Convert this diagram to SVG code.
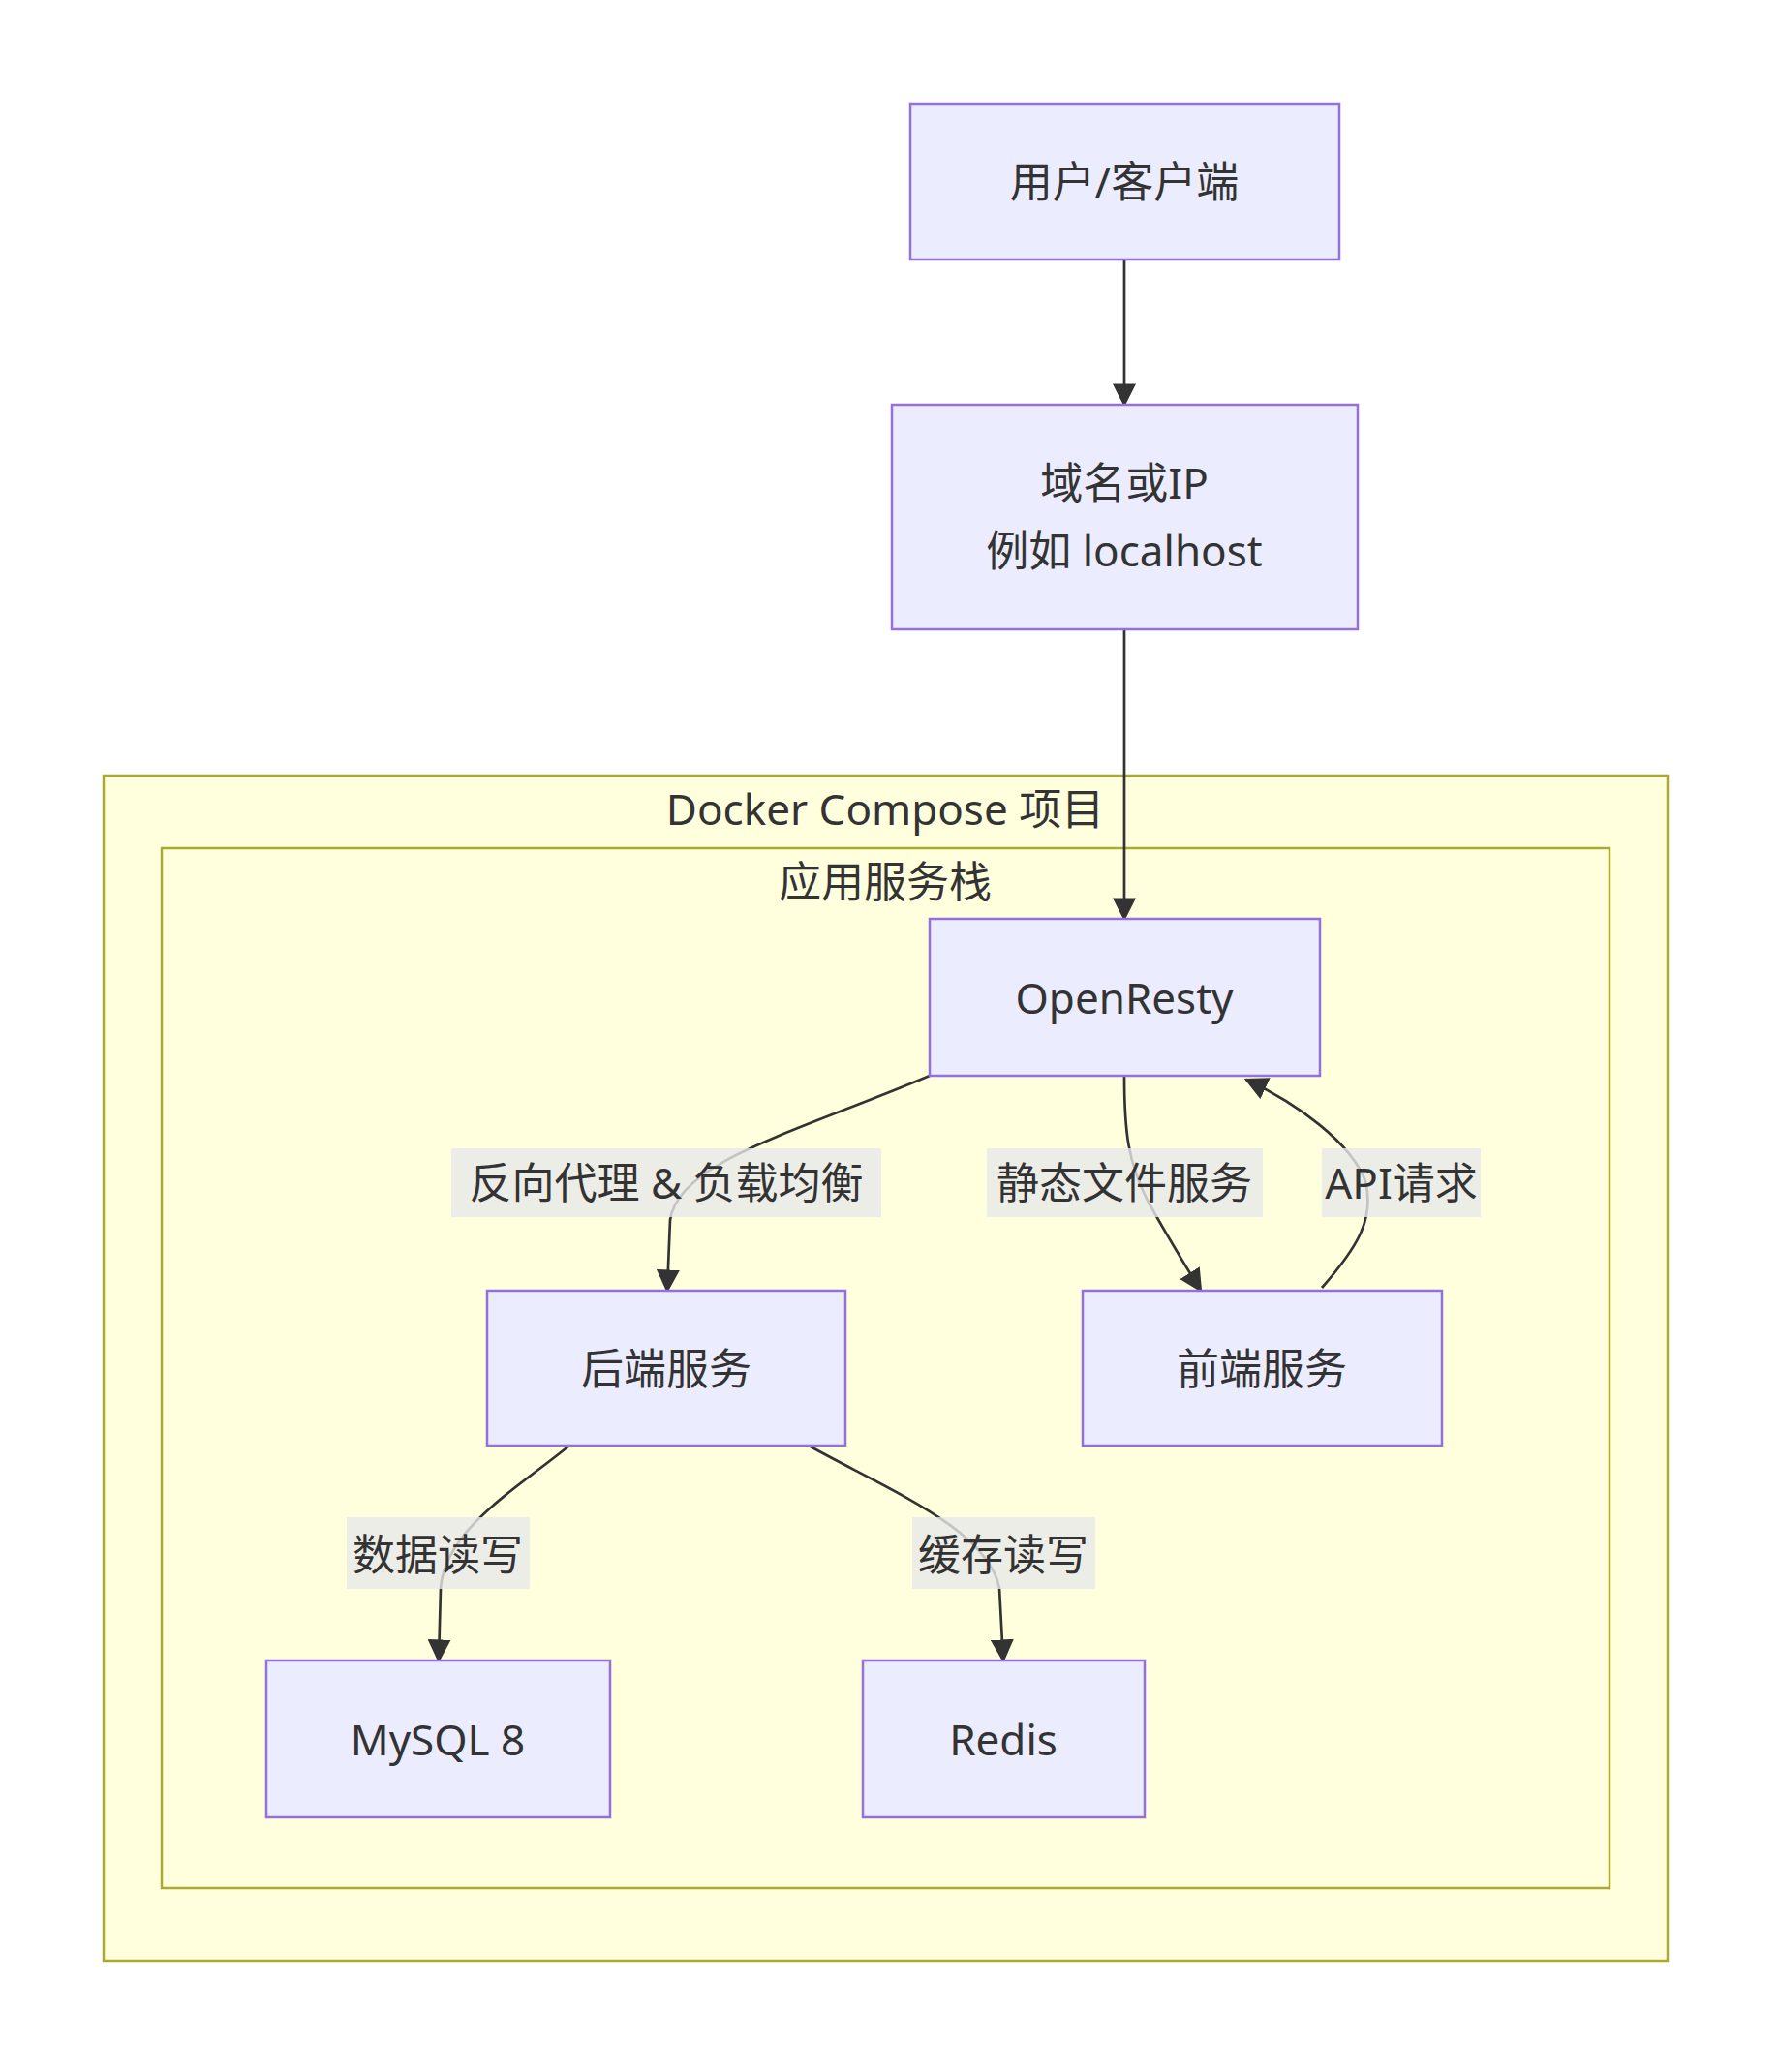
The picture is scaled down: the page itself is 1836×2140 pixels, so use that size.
<svg xmlns="http://www.w3.org/2000/svg" width="1836" height="2140" viewBox="0 0 1836 2140">
<style>
.n{fill:#ECECFF;stroke:#9370DB;stroke-width:2.5}
.c{fill:#FFFFDE;stroke:#AAAA33;stroke-width:2.5}
text{font-family:"Noto Sans","Noto Sans CJK SC",sans-serif;font-size:44px;fill:#333;text-anchor:middle;dominant-baseline:central}
.e{fill:none;stroke:#333;stroke-width:2.7;marker-end:url(#a)}
.lb{fill:#E8E8E8;opacity:0.8}
</style>
<defs><marker id="a" viewBox="0 0 10 10" refX="9" refY="5" markerWidth="9" markerHeight="9" markerUnits="userSpaceOnUse" orient="auto"><path d="M0,0L10,5L0,10z" fill="#333" transform="scale(1)"/></marker>
<marker id="b" viewBox="0 0 10 10" refX="9" refY="5" markerWidth="24" markerHeight="24" markerUnits="userSpaceOnUse" orient="auto"><path d="M0,0L10,5L0,10z" fill="#333"/></marker></defs>
<g id="clusters">
<rect class="c" x="107" y="801" width="1615" height="1224"/>
<text x="914" y="835">Docker Compose 项目</text>
<rect class="c" x="167" y="876" width="1495" height="1074"/>
<text x="914" y="910">应用服务栈</text>
</g>
<g id="connectors" style="--m:url(#b)">
<path class="e" style="marker-end:url(#b)" d="M1161,268 L1161,418"/>
<path class="e" style="marker-end:url(#b)" d="M1161,650 L1161,949"/>
<path class="e" style="marker-end:url(#b)" d="M960,1111 C820,1170 700,1200 692,1260 L689,1333"/>
<path class="e" style="marker-end:url(#b)" d="M1161,1111 C1161,1170 1165,1200 1185,1240 Q1210,1285 1240,1333"/>
<path class="e" style="marker-end:url(#b)" d="M1365,1330 C1400,1290 1420,1260 1410,1220 C1395,1180 1340,1140 1287,1115"/>
<path class="e" style="marker-end:url(#b)" d="M588,1493 C530,1540 460,1580 455,1640 L453,1715"/>
<path class="e" style="marker-end:url(#b)" d="M835,1493 C920,1540 1020,1580 1032,1640 L1036,1715"/>
<rect class="lb" x="466" y="1186" width="444" height="71"/><text x="688" y="1221">反向代理 &amp; 负载均衡</text>
<rect class="lb" x="1019" y="1186" width="285" height="71"/><text x="1161" y="1221">静态文件服务</text>
<rect class="lb" x="1365" y="1186" width="164" height="71"/><text x="1447" y="1221">API请求</text>
<rect class="lb" x="358" y="1567" width="189" height="74"/><text x="452" y="1605">数据读写</text>
<rect class="lb" x="942" y="1567" width="189" height="74"/><text x="1036" y="1605">缓存读写</text>
</g>
<g id="user"><rect class="n" x="940" y="107" width="443" height="161"/><text x="1161" y="187">用户/客户端</text></g>
<g id="domain"><rect class="n" x="921" y="418" width="481" height="232"/><text x="1161" y="498">域名或IP</text><text x="1161" y="568">例如 localhost</text></g>
<g id="openresty"><rect class="n" x="960" y="949" width="403" height="162"/><text x="1161" y="1030">OpenResty</text></g>
<g id="backend"><rect class="n" x="503" y="1333" width="370" height="160"/><text x="688" y="1413">后端服务</text></g>
<g id="frontend"><rect class="n" x="1118" y="1333" width="371" height="160"/><text x="1303" y="1413">前端服务</text></g>
<g id="mysql"><rect class="n" x="275" y="1715" width="355" height="162"/><text x="452" y="1796">MySQL 8</text></g>
<g id="redis"><rect class="n" x="891" y="1715" width="291" height="162"/><text x="1036" y="1796">Redis</text></g>
</svg>
